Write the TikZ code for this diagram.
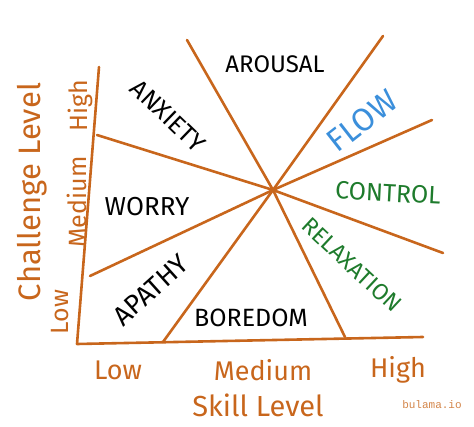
\documentclass[tikz,border=0pt]{standalone}
\usepackage{fontspec}
\setmainfont{Fira Sans}
\setmonofont{Liberation Mono}
\usetikzlibrary{positioning}

\definecolor{rust}{HTML}{C8661C}
\definecolor{flowblue}{HTML}{3B8FDB}
\definecolor{ctrlgreen}{HTML}{1E7B2C}

\tikzset{
	ray/.style={draw=rust, line width=2.6pt, line cap=round, line join=round},
	zone/.style={font=\fontsize{25}{25}\selectfont, inner sep=0pt},
	ticklabel/.style={text=rust, font=\fontsize{27}{27}\selectfont, inner sep=0pt},
}

\begin{document}
\begin{tikzpicture}[x=1pt,y=-1pt]
	% picture in pixel units, y pointing down
	\useasboundingbox (0,0) rectangle (474,427);
	
	% axes
	\coordinate (origin) at (77,344);
	\coordinate (ytop) at (99,67);
	\coordinate (xend) at (423,337);
	\draw[ray] (ytop) -- (origin) -- (xend);
	
	% the point where all zones meet
	\coordinate (hub) at (273,190);
	\coordinate (arousalL) at (187,40);
	\coordinate (arousalR) at (383,36);
	\coordinate (flowR) at (432,120);
	\coordinate (controlR) at (443,253);
	\coordinate (relaxB) at (345,337);
	\coordinate (boredB) at (163,342);
	\coordinate (apathyL) at (90,276);
	\coordinate (worryL) at (97,135);
	
	\foreach \e in {arousalL,arousalR,flowR,controlR,relaxB,boredB,apathyL,worryL}{% one ray per zone border
		\draw[ray] (hub) -- (\e);
	}
	
	% zone names
	\node[zone, font=\fontsize{24}{24}\selectfont] (arousal) at (275,64) {AROUSAL};
	\node[zone, rotate=-44] (anxiety) at (168,116) {ANXIETY};
	\node[zone, text=flowblue, font=\fontsize{32}{32}\selectfont, rotate=38] (flow) at (362,121) {FLOW};
	\node[zone, text=ctrlgreen, rotate=-3] (control) at (388,193) {CONTROL};
	\node[zone, text=ctrlgreen, font=\fontsize{23}{23}\selectfont, rotate=-43] (relax) at (352,265) {RELAXATION};
	\node[zone, font=\fontsize{26}{26}\selectfont] (worry) at (147,207) {WORRY};
	\node[zone, font=\fontsize{27}{27}\selectfont, rotate=42] (apathy) at (151,290) {APATHY};
	\node[zone] (boredom) at (251,318) {BOREDOM};
	
	% skill axis
	\node[ticklabel] (xlow) at (118,370) {Low};
	\node[ticklabel] (xmed) at (263,370) {Medium};
	\node[ticklabel] (xhigh) at (398,370) {High};
	\node[ticklabel, font=\fontsize{29}{29}\selectfont] (xname) at (258,405) {Skill Level};
	
	% challenge axis
	\node[ticklabel, font=\fontsize{25}{25}\selectfont, rotate=90] (ylow) at (60,312) {Low};
	\node[ticklabel, font=\fontsize{25}{25}\selectfont, rotate=90] (ymed) at (77,202) {Medium};
	\node[ticklabel, font=\fontsize{25}{25}\selectfont, rotate=90] (yhigh) at (80,106) {High};
	\node[ticklabel, font=\fontsize{31}{31}\selectfont, rotate=90] (yname) at (32,192) {Challenge Level};
	
	\node[text=rust!80, font=\ttfamily\fontsize{11}{11}\selectfont, inner sep=0pt] (mark) at (432,405) {bulama.io};
\end{tikzpicture}
\end{document}
